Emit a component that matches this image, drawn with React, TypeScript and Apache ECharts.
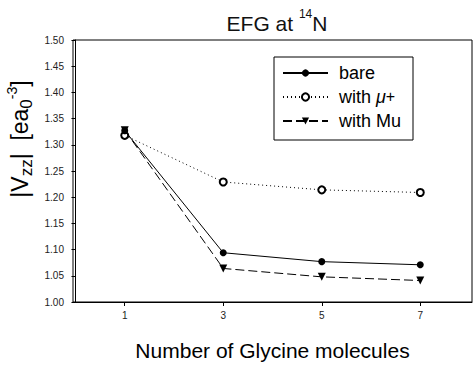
import React, { useEffect, useRef } from "react";
import * as echarts from "echarts";

const xValues = [1, 3, 5, 7];
const bare = [1.327, 1.094, 1.077, 1.071];
const withMuPlus = [1.318, 1.229, 1.214, 1.209];
const withMu = [1.328, 1.064, 1.048, 1.041];
const xTicks = [1, 3, 5, 7];
const seriesNames = ["bare", "with μ+", "with Mu"];

const FONT = "Liberation Sans, Arial, sans-serif";

function pairs(ys: number[]) {
  return xValues.map((x, i) => [x, ys[i]]);
}

export default function App() {
  const ref = useRef<HTMLDivElement>(null);
  useEffect(() => {
    if (!ref.current) return;
    const chart = echarts.init(ref.current, undefined, { renderer: "svg" });
    chart.setOption({
      animation: false,
      backgroundColor: "#fff",
      textStyle: { fontFamily: FONT },
      title: {
        text: "{a|EFG at }{s|14}{a|N}",
        left: 272,
        textAlign: "center",
        top: 3,
        textStyle: {
          fontWeight: "normal",
          rich: {
            a: { fontSize: 21, fontWeight: "normal", fontFamily: FONT, color: "#111", verticalAlign: "bottom", lineHeight: 26 },
            s: { fontSize: 12, fontWeight: "normal", fontFamily: FONT, color: "#111", verticalAlign: "top", lineHeight: 26 },
          },
        },
      },
      grid: {
        left: 73,
        right: 2,
        top: 40,
        bottom: 52,
        show: true,
        borderColor: "#000",
        borderWidth: 1,
      },
      legend: {
        orient: "vertical",
        left: 274,
        top: 57,
        itemWidth: 45,
        itemHeight: 9,
        itemGap: 6,
        padding: [7, 12, 10, 8],
        borderColor: "#000",
        borderWidth: 1,
        data: seriesNames,
        formatter: (name: string) =>
          name === "with μ+" ? "{t|with }{m|μ}{p|+}" : "{t|" + name + "}",
        textStyle: {
          padding: [0, 0, 0, 6],
          rich: {
            t: { fontSize: 18, fontFamily: FONT, color: "#000", lineHeight: 18 },
            m: { fontSize: 18, fontFamily: FONT, fontStyle: "italic", color: "#000", lineHeight: 18 },
            p: { fontSize: 16, fontFamily: FONT, color: "#000", verticalAlign: "top", lineHeight: 18 },
          },
        },
      },
      xAxis: {
        type: "value",
        min: -0.05,
        max: 8.05,
        name: "Number of Glycine molecules",
        nameLocation: "middle",
        nameGap: 38,
        nameTextStyle: { fontSize: 21, fontFamily: FONT, color: "#000" },
        axisLine: { show: true, lineStyle: { color: "#000", width: 1 } },
        axisTick: { show: true, length: 4, customValues: xTicks, lineStyle: { color: "#000" } },
        axisLabel: {
          customValues: xTicks,
          fontSize: 10,
          color: "#222",
          margin: 8,
          fontFamily: FONT,
        },
        splitLine: { show: false },
      },
      yAxis: {
        type: "value",
        min: 1.0,
        max: 1.5,
        interval: 0.05,
        axisLine: { show: true, lineStyle: { color: "#000", width: 1 } },
        axisTick: { show: true, length: 4, lineStyle: { color: "#000" } },
        axisLabel: {
          fontSize: 10,
          color: "#222",
          margin: 9,
          fontFamily: FONT,
          formatter: (v: number) => v.toFixed(2),
        },
        splitLine: { show: false },
      },
      graphic: [
        {
          type: "text",
          x: 20,
          y: 139,
          rotation: Math.PI / 2,
          style: {
            text: "{a||V}{b|zz}{a||  [ea}{b|0}{c|-3}{a|]}",
            align: "center",
            verticalAlign: "middle",
            rich: {
              a: { fontSize: 23, fontFamily: FONT, fill: "#000", color: "#000", lineHeight: 30, verticalAlign: "middle" },
              b: { fontSize: 17, fontFamily: FONT, fill: "#000", color: "#000", lineHeight: 30, verticalAlign: "bottom" },
              c: { fontSize: 14, fontFamily: FONT, fill: "#000", color: "#000", lineHeight: 30, verticalAlign: "top" },
            },
          },
        },
      ],
      series: [
        {
          name: seriesNames[0],
          type: "line",
          data: pairs(bare),
          symbol: "circle",
          symbolSize: 7,
          itemStyle: { color: "#000" },
          lineStyle: { color: "#000", width: 1, type: "solid" },
          z: 3,
        },
        {
          name: seriesNames[1],
          type: "line",
          data: pairs(withMuPlus),
          symbol: "emptyCircle",
          symbolSize: 7,
          itemStyle: { color: "#000", borderColor: "#000", borderWidth: 1 },
          lineStyle: { color: "#000", width: 1, type: [1, 3] },
          z: 2,
        },
        {
          name: seriesNames[2],
          type: "line",
          data: pairs(withMu),
          symbol: "triangle",
          symbolRotate: 180,
          symbolSize: 8,
          itemStyle: { color: "#000" },
          lineStyle: { color: "#000", width: 1, type: [9, 4] },
          z: 4,
        },
      ],
    });
    return () => chart.dispose();
  }, []);
  return <div ref={ref} style={{ width: 474, height: 366, position: "absolute", left: 0, top: 0 }} />;
}
